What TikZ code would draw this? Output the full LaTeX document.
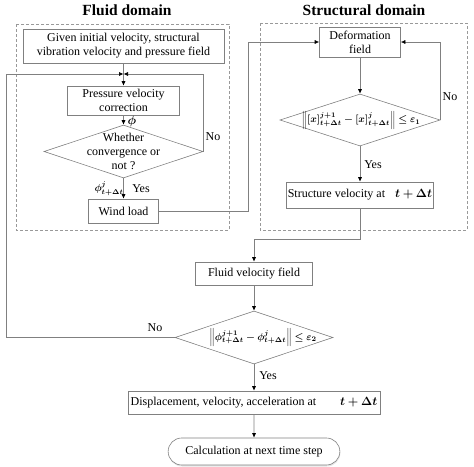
\documentclass[tikz,border=0pt]{standalone}
\usepackage{amsmath,bm}
\usepackage{fontspec}
\setmainfont{Liberation Serif}
\usetikzlibrary{positioning,shapes.geometric,shapes.misc,arrows.meta,shadows}

\begin{document}
\begin{tikzpicture}[x=1pt,y=-1pt,inner sep=0.4mm,font=\fontsize{12}{14}\selectfont,
  >={Latex[length=4.5pt,width=4pt,color=black]},
  box/.style={draw=black!50,line width=0.6pt,align=center,fill=white},
  dia/.style={draw=black!50,line width=0.6pt,diamond,inner sep=0pt},
  link/.style={draw=black!50,line width=0.6pt},
  formula/.style={font=\fontsize{10}{12}\selectfont},
  domainbox/.style={draw=black!40,line width=0.6pt,dash pattern=on 3pt off 2pt},
  title/.style={font=\fontsize{15.5}{18}\selectfont\bfseries}]
\useasboundingbox (0,0) rectangle (474,466);
\draw[domainbox] (16,24) rectangle (229,230);
\draw[domainbox] (260,23) rectangle (467,230);
\node[title] (tfluid) at (127,10) {Fluid domain};
\node[title] (tstruct) at (364,10) {Structural domain};

\node[box,minimum width=201pt,minimum height=34pt] (init) at (123.5,46) {Given initial velocity, structural\\vibration velocity and pressure field};
\coordinate (j) at (123.5,74);
\node[box,minimum width=112pt,minimum height=29pt] (pres) at (123.5,100.5) {Pressure velocity\\correction};
\node[dia,minimum width=159pt,minimum height=53pt] (d1) at (123.5,151.5) {};
\node[align=center] (t1) at (d1) {Whether\\convergence or\\not ?};
\node[box,minimum width=70pt,minimum height=24pt] (wind) at (123.5,211) {Wind load};

\node[box,minimum width=81pt,minimum height=30pt] (def) at (360,42) {Deformation\\field};
\node[dia,minimum width=160pt,minimum height=52pt] (d2) at (360,120) {};
\node[formula] (t2) at (361,120) {$\Big\Vert\bm{[x]^{j+1}_{t+\Delta t}-[x]^{j}_{t+\Delta t}}\Big\Vert\bm{\le\varepsilon_1}$};
\node[box,minimum width=147pt,minimum height=26pt] (sv) at (360,195) {Structure velocity at\hspace{10pt}$\bm{t+\Delta t}$};

\node[box,minimum width=117pt,minimum height=23pt] (fv) at (254,273.5) {Fluid velocity field};
\node[dia,minimum width=158pt,minimum height=53pt] (d3) at (254,337.5) {};
\node[formula] (t3) at (263,337.5) {$\Big\Vert\bm{\phi^{j+1}_{t+\Delta t}-\phi^{j}_{t+\Delta t}}\Big\Vert\bm{\le\varepsilon_2}$};
\node[box,minimum width=252pt,minimum height=23pt] (disp) at (254,402.5) {Displacement, velocity, acceleration at\hspace{24pt}$\bm{t+\Delta t}$};
\node[box,rounded rectangle,minimum width=174pt,minimum height=27pt,drop shadow={shadow xshift=0.5pt,shadow yshift=-1.5pt,fill=black!20}] (next) at (254,451.5) {Calculation at next time step};

\draw[link] (init) -- (j);
\draw[link] [->] (j) -- (pres);
\draw[link] [->] (pres) -- (d1);
\draw[link] [->] (d1.east) |- (j);
\draw[link] [->] (d1) -- (wind);
\draw[link] [->] (wind.east) -- ++(89,0) |- (def.west);
\draw[link] [->] (def) -- (d2);
\draw[link] [->] (d2.east) |- (def.east);
\draw[link] [->] (d2) -- (sv);
\draw[link] [->] (sv.south) -- ++(0,31) -| (fv.north);
\draw[link] [->] (fv) -- (d3);
\draw[link] [->] (d3.west) -- ++(-168,0) |- (j);
\draw[link] [->] (d3) -- (disp);
\draw[link] [->] (disp) -- (next);

\node (lphi) at (132,121) {$\bm{\phi}$};
\node[formula] (lphij) at (109,189) {$\bm{\phi^{j}_{t+\Delta t}}$};
\node (lyes1) at (141,189) {Yes};
\node (lno1) at (213,137) {No};
\node (lno2) at (450,97) {No};
\node (lyes2) at (373,165) {Yes};
\node (lno3) at (155,328) {No};
\node (lyes3) at (268,376) {Yes};
\end{tikzpicture}
\end{document}
